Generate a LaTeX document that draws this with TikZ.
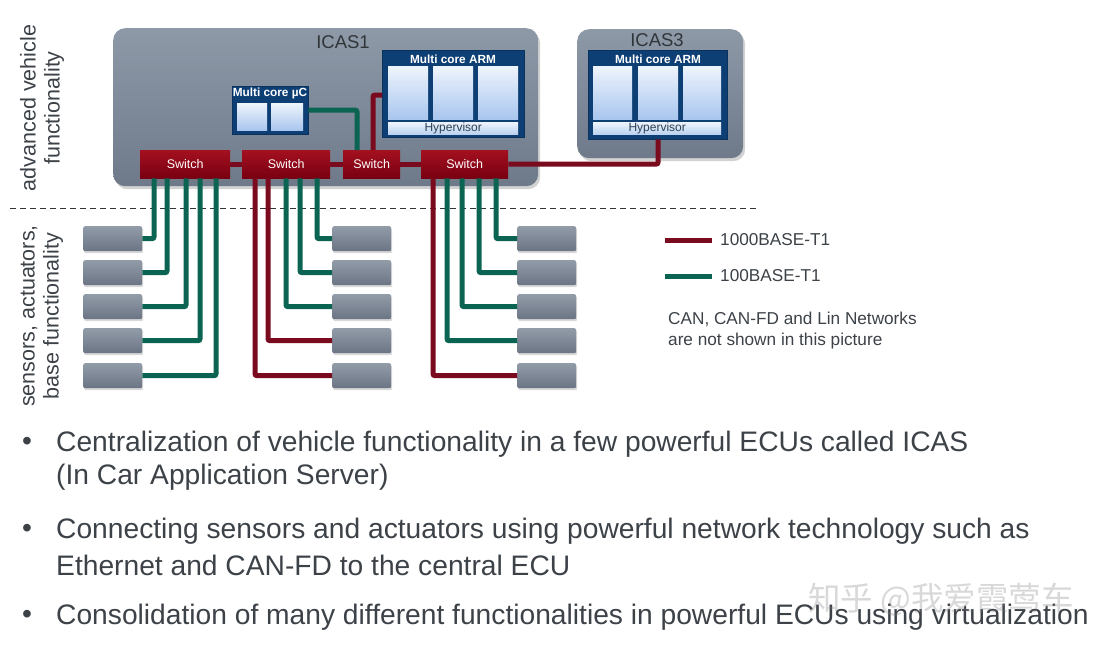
\documentclass[tikz,border=0pt]{standalone}
\usepackage{fontspec}
\setmainfont{Liberation Sans}
\newfontfamily\cjk{Noto Sans CJK SC}
\usetikzlibrary{shadows}
\definecolor{gbit}{HTML}{7A0A1E}
\definecolor{fe}{HTML}{0B6352}
\definecolor{txt}{HTML}{3C4248}
\definecolor{icasA}{HTML}{8E99A8}
\definecolor{icasB}{HTML}{6E7A8A}
\definecolor{armblue}{HTML}{0D3F75}
\definecolor{coreA}{HTML}{EEF4FC}
\definecolor{coreB}{HTML}{A9C6EE}
\definecolor{swA}{HTML}{A4101F}
\definecolor{swB}{HTML}{780012}
\definecolor{devA}{HTML}{929CA9}
\definecolor{devB}{HTML}{6A7484}
\tikzset{
  icas/.style={rounded corners=12pt, top color=icasA, bottom color=icasB, draw=none,
    drop shadow={shadow xshift=2pt, shadow yshift=-3pt, opacity=0.35}},
  icaslabel/.style={text=txt!80!black, font=\fontsize{18.5}{20}\selectfont, inner sep=0pt},
  cpu/.style={fill=armblue, draw=armblue!80!black, anchor=north west, inner sep=0pt},
  cputitle/.style={text=white, font=\fontsize{11.8}{13}\selectfont\bfseries, inner sep=0pt},
  core/.style={top color=coreA, bottom color=coreB, draw=none, anchor=north west, inner sep=0pt},
  hyper/.style={top color=coreA, bottom color=coreB!80!white, draw=none, anchor=north west, inner sep=0pt,
    text=txt!70!armblue, font=\fontsize{12}{13}\selectfont},
  switchbox/.style={top color=swA, bottom color=swB, draw=none, anchor=north west, inner sep=0pt,
    minimum height=28pt, text=white, font=\fontsize{12.5}{13}\selectfont,
    drop shadow={shadow xshift=1pt, shadow yshift=-2pt, opacity=0.3}},
  device/.style={top color=devA, bottom color=devB, draw=none, rounded corners=2pt, anchor=north west,
    minimum width=59pt, minimum height=25pt, inner sep=0pt,
    drop shadow={shadow xshift=1pt, shadow yshift=-2pt, opacity=0.3}},
  gig/.style={draw=gbit, line width=5pt, rounded corners=2pt},
  fast/.style={draw=fe, line width=5pt, rounded corners=2pt},
  bullettext/.style={text=txt, font=\fontsize{28.2}{33}\selectfont, anchor=west, inner sep=0pt},
  sidelabel/.style={text=txt, font=\fontsize{21.5}{24}\selectfont, rotate=90, align=center, inner sep=0pt},
  legendtext/.style={text=txt, font=\fontsize{17.2}{21}\selectfont, inner sep=0pt},
}
\begin{document}
\begin{tikzpicture}[x=1pt,y=-1pt]
\useasboundingbox (0,0) rectangle (1106,648);
\fill[white] (0,0) rectangle (1106,648);

% ICAS boxes
\node[icas, minimum width=425pt, minimum height=158pt, anchor=north west] (icas1) at (113,28) {};
\node[icaslabel] (icas1t) at (343,42) {ICAS1};
\node[icas, minimum width=166pt, minimum height=129pt, anchor=north west] (icas3) at (577,29) {};
\node[icaslabel] (icas3t) at (657,40) {ICAS3};

% ARM in ICAS1
\node[cpu, minimum width=142pt, minimum height=87pt] (arm1) at (382,50) {};
\node[cputitle] (arm1t) at (453,59) {Multi core ARM};
\node[core, minimum width=40pt, minimum height=53pt] (a1c1) at (388,66) {};
\node[core, minimum width=40pt, minimum height=53pt] (a1c2) at (433,66) {};
\node[core, minimum width=40pt, minimum height=53pt] (a1c3) at (478,66) {};
\node[hyper, minimum width=130pt, minimum height=12pt] (a1h) at (388,122) {Hypervisor};

% ARM in ICAS3
\node[cpu, minimum width=139pt, minimum height=89pt] (arm3) at (588,50) {};
\node[cputitle] (arm3t) at (658,59) {Multi core ARM};
\node[core, minimum width=39pt, minimum height=53pt] (a3c1) at (593,66) {};
\node[core, minimum width=40pt, minimum height=53pt] (a3c2) at (638,66) {};
\node[core, minimum width=38pt, minimum height=53pt] (a3c3) at (683,66) {};
\node[hyper, minimum width=128pt, minimum height=12pt] (a3h) at (593,122) {Hypervisor};

% Multi core uC
\node[cpu, minimum width=76pt, minimum height=48pt] (uc) at (232,86) {};
\node[cputitle] (uct) at (270,93.5) {Multi core µC};
\node[core, minimum width=30pt, minimum height=27pt] (ucc1) at (237,103) {};
\node[core, minimum width=32pt, minimum height=27pt] (ucc2) at (271,103) {};

% Switches
\node[switchbox, minimum width=90pt] (sw1) at (140,150) {Switch};
\node[switchbox, minimum width=88pt] (sw2) at (242,150) {Switch};
\node[switchbox, minimum width=57pt] (sw3) at (343,150) {Switch};
\node[switchbox, minimum width=87pt] (sw4) at (421,150) {Switch};

% backbone
\draw[gbit, line width=5pt] (sw1.east) -- (sw2.west);
\draw[gbit, line width=5pt] (sw2.east) -- (sw3.west);
\draw[gbit, line width=5pt] (sw3.east) -- (sw4.west);
\draw[gig] (sw4.east) -| (arm3.south -| 658,0);
\draw[fast] (uc.east |- 0,110) -| ([xshift=14pt]sw3.north west);
\draw[gig] ([xshift=30pt]sw3.north west) |- (arm1.west |- 0,95);

% dashed separator
\draw[dashed, dash pattern=on 6pt off 4pt, txt!80!black, line width=0.8pt] (10,208) -- (757,208);

% devices
\foreach \i/\y in {1/226,2/260,3/294,4/328,5/363}{
  \node[device] (L\i) at (83,\y) {};
  \node[device] (M\i) at (332,\y) {};
  \node[device] (R\i) at (517,\y) {};
}

% switch 1 links
\draw[fast] ([xshift=14pt]sw1.south west) |- (L1.east);
\draw[fast] ([xshift=27pt]sw1.south west) |- (L2.east);
\draw[fast] ([xshift=46pt]sw1.south west) |- (L3.east);
\draw[fast] ([xshift=60pt]sw1.south west) |- (L4.east);
\draw[fast] ([xshift=76pt]sw1.south west) |- (L5.east);
% switch 2 links
\draw[gig]  ([xshift=13pt]sw2.south west) |- (M5.west);
\draw[gig]  ([xshift=26pt]sw2.south west) |- (M4.west);
\draw[fast] ([xshift=44pt]sw2.south west) |- (M3.west);
\draw[fast] ([xshift=58pt]sw2.south west) |- (M2.west);
\draw[fast] ([xshift=75pt]sw2.south west) |- (M1.west);
% switch 4 links
\draw[gig]  ([xshift=12pt]sw4.south west) |- (R5.west);
\draw[fast] ([xshift=26pt]sw4.south west) |- (R4.west);
\draw[fast] ([xshift=41pt]sw4.south west) |- (R3.west);
\draw[fast] ([xshift=58pt]sw4.south west) |- (R2.west);
\draw[fast] ([xshift=75pt]sw4.south west) |- (R1.west);

% legend
\coordinate (lg1a) at (665,240); \coordinate (lg1b) at (712,240);
\coordinate (lg2a) at (665,276); \coordinate (lg2b) at (712,276);
\draw[gbit, line width=5pt] (lg1a) -- (lg1b);
\draw[fe, line width=5pt] (lg2a) -- (lg2b);
\node[legendtext, anchor=west] (lgt1) at (720,240) {1000BASE-T1};
\node[legendtext, anchor=west] (lgt2) at (720,276) {100BASE-T1};
\node[legendtext, anchor=north west, align=left] (note) at (668,312) {CAN, CAN-FD and Lin Networks\\are not shown in this picture};

% side labels
\node[sidelabel] (side1) at (42,108) {advanced vehicle\\functionality};
\node[sidelabel] (side2) at (42,316) {sensors, actuators,\\base functionality};

% bullets
\node[bullettext] (b1m) at (22,444) {•};
\node[bullettext] (b1) at (56,444) {Centralization of vehicle functionality in a few powerful ECUs called ICAS};
\node[bullettext] (b1b) at (56,477) {(In Car Application Server)};
\node[bullettext] (b2m) at (22,531) {•};
\node[bullettext] (b2) at (56,531) {Connecting sensors and actuators using powerful network technology such as};
\node[bullettext] (b2b) at (56,565) {Ethernet and CAN-FD to the central ECU};
\node[bullettext] (b3m) at (22,617) {•};
\node[bullettext] (b3) at (56,617) {Consolidation of many different functionalities in powerful ECUs using virtualization};

% watermark
\node[text=gray, opacity=0.3, font=\cjk\fontsize{32.5}{34}\selectfont, anchor=west, inner sep=0pt] (wm) at (808,600) {知乎 @我爱霞莺车};
\end{tikzpicture}
\end{document}
